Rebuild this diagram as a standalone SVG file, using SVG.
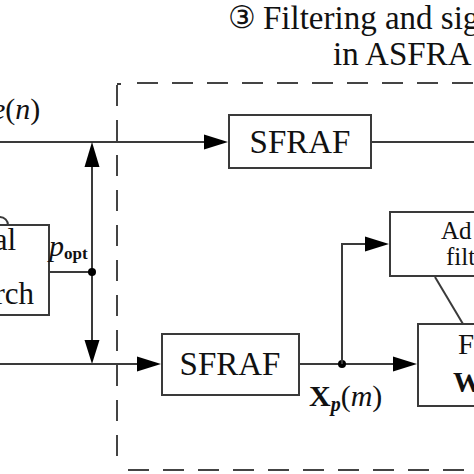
<svg xmlns="http://www.w3.org/2000/svg" width="474" height="474" viewBox="0 0 474 474">
<style>
.box{fill:#fff;stroke:#3a3a3a;stroke-width:2}
.ln{fill:none;stroke:#3a3a3a;stroke-width:2}
.dash{fill:none;stroke:#444;stroke-width:2;stroke-dasharray:21 14}
.t{font-family:"Liberation Serif","Times New Roman",serif;fill:#111}
.ah{fill:#000}
</style>
<rect width="474" height="474" fill="#fff"/>
<g id="title">
<text class="t" x="228" y="28" font-size="31" font-family="'Noto Sans CJK SC',sans-serif">③</text>
<text class="t" x="263" y="29" font-size="33">Filtering and sig</text>
<text class="t" x="333" y="65" font-size="33">in ASFRA</text>
</g>
<g id="region">
<path class="dash" d="M117 85 L117 466"/>
<path class="ln" d="M117 84 L121 84"/>
<path class="dash" d="M137 83 L474 83"/>
<path class="dash" d="M128 470 L474 470"/>
</g>
<g id="search">
<path class="ln" d="M0 217 A8 8 0 0 1 8 225"/>
<rect class="box" x="-20" y="225" width="69" height="90"/>
<text class="t" x="16" y="250" font-size="31" text-anchor="end">al</text>
<text class="t" x="34" y="304" font-size="31" text-anchor="end">rch</text>
</g>
<g id="sfraf1">
<rect class="box" x="229" y="115" width="142" height="53"/>
<text class="t" x="300" y="153" font-size="33" text-anchor="middle">SFRAF</text>
</g>
<g id="sfraf2">
<rect class="box" x="162" y="334" width="137" height="61"/>
<text class="t" x="230" y="375" font-size="33" text-anchor="middle">SFRAF</text>
</g>
<g id="adaptive">
<rect class="box" x="390" y="212" width="100" height="64"/>
<text class="t" x="441" y="239" font-size="25">Ad</text>
<text class="t" x="446" y="265" font-size="25">filt</text>
</g>
<g id="filter">
<rect class="box" x="418" y="324" width="80" height="82"/>
<text class="t" x="458" y="354" font-size="29">F</text>
<text class="t" x="453" y="392" font-size="29" font-weight="bold">W</text>
</g>
<g id="connectors">
<path class="ln" d="M0 142 L205 142"/>
<polygon class="ah" points="228,142 204,134.5 204,149.5"/>
<path class="ln" d="M371 142 L474 142"/>
<path class="ln" d="M92 166 L92 341"/>
<polygon class="ah" points="92,142 84.5,167 99.5,167"/>
<polygon class="ah" points="92,364 84.5,340 99.5,340"/>
<path class="ln" d="M49 272 L92 272"/>
<circle cx="92" cy="272" r="4" fill="#000"/>
<path class="ln" d="M0 364 L138 364"/>
<polygon class="ah" points="161,364 137,356.5 137,371.5"/>
<path class="ln" d="M299 364 L394 364"/>
<polygon class="ah" points="417,364 393,356.5 393,371.5"/>
<circle cx="342" cy="364" r="4" fill="#000"/>
<path class="ln" d="M342 364 L342 244 L366 244"/>
<polygon class="ah" points="389,244 365,236.5 365,251.5"/>
<path class="ln" d="M435 277 L463 324"/>
</g>
<g id="labels">
<text class="t" x="-8" y="119" font-size="30" font-style="italic">e<tspan font-style="normal">(</tspan>n<tspan font-style="normal">)</tspan></text>
<text class="t" x="49" y="256" font-size="30" font-style="italic">p<tspan font-size="17" font-style="normal" font-weight="bold" dy="3">opt</tspan></text>
<text class="t" x="309" y="406" font-size="30" font-weight="bold">X<tspan font-size="20" font-style="italic" dy="5">p</tspan><tspan font-weight="normal" dy="-5">(</tspan><tspan font-weight="normal" font-style="italic">m</tspan><tspan font-weight="normal">)</tspan></text>
</g>
</svg>
